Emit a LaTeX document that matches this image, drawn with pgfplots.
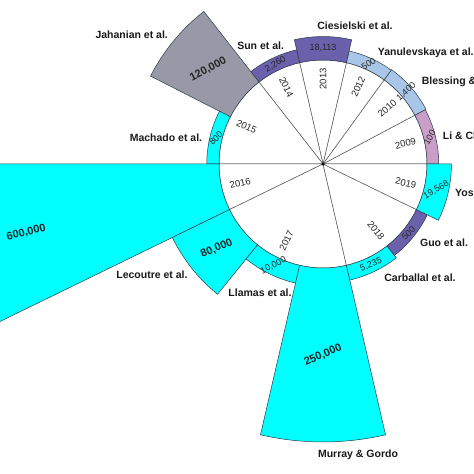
\documentclass[border=0pt]{standalone}
\usepackage{fontspec}
\setmainfont{Liberation Sans}
\usepackage{pgfplots}
\pgfplotsset{compat=1.18}

\definecolor{ccyan}{RGB}{0,255,255}
\definecolor{cpurp}{RGB}{106,96,172}
\definecolor{cblue}{RGB}{168,198,232}
\definecolor{cpink}{RGB}{201,158,201}
\definecolor{cgray}{RGB}{152,152,166}
\definecolor{edge}{RGB}{45,60,70}

\pgfdeclareplotmark{blank}{}

\pgfplotsset{
  yearsec/.style={
    scatter, only marks, mark=blank,
    point meta min=0, point meta max=1,
    visualization depends on={value \thisrow{a0} \as \secA},
    visualization depends on={value \thisrow{a1} \as \secB},
    visualization depends on={value \thisrow{yr} \as \secY},
    visualization depends on={value \thisrow{rot} \as \secR},
    scatter/@pre marker code/.code={%
      \pgfmathparse{(\secA+\secB)/2}\xdef\gAM{\pgfmathresult}%
      \scope
      \filldraw[fill=white, draw=black!65, line width=0.5pt]
        (0pt,0pt) -- (\secA:104pt) arc[start angle=\secA, end angle=\secB, radius=104pt] -- cycle;
      \node[rotate=\secR, text=black!85, font=\fontsize{9.5}{11}\selectfont] at (\gAM:85pt) {\secY};
    },
    scatter/@post marker code/.code={\endscope},
  },
  barsec/.style={
    scatter, only marks, mark=blank,
    point meta min=0, point meta max=1,
    visualization depends on={value \thisrow{a0} \as \secA},
    visualization depends on={value \thisrow{a1} \as \secB},
    visualization depends on={value \thisrow{v} \as \secV},
    visualization depends on={value \thisrow{rot} \as \secR},
    visualization depends on={value \thisrow{col} \as \secC},
    visualization depends on={value \thisrow{bold} \as \secW},
    scatter/@pre marker code/.code={%
      \begingroup
      \pgfkeys{/pgf/fpu=true,/pgf/fpu/output format=fixed}%
      \pgfmathparse{115.7+0.000649*\secV}\xdef\gRO{\pgfmathresult}%
      \pgfmathparse{(104+\gRO)/2}\xdef\gRM{\pgfmathresult}%
      \pgfmathparse{(\secA+\secB)/2}\xdef\gAM{\pgfmathresult}%
      \endgroup
      \scope
      \filldraw[fill=\secC, draw=edge, line width=0.5pt]
        (\secA:104pt) arc[start angle=\secA, end angle=\secB, radius=104pt]
        -- (\secB:\gRO pt) arc[start angle=\secB, end angle=\secA, radius=\gRO pt] -- cycle;
      \ifnum\secW=1
        \def\vfont{\bfseries\fontsize{11}{13}\selectfont}%
      \else
        \def\vfont{\fontsize{9}{11}\selectfont}%
      \fi
      \node[rotate=\secR, text=black!85, font=\vfont, inner sep=0pt] at (\gAM:\gRM pt)
        {\pgfmathprintnumber[fixed, precision=0, 1000 sep={,}, assume math mode=true]{\secV}};
    },
    scatter/@post marker code/.code={\endscope},
  },
}

\begin{document}
\begin{tikzpicture}
\begin{axis}[
    width=474pt, height=474pt, scale only axis,
    xmin=-323, xmax=151,
    ymin=-310, ymax=164,
    hide axis, clip=false,
]
% year sectors of the inner disc
\addplot[yearsec] table[x expr=0, y expr=0] {
a0  a1  yr   rot
0   28  2009 14
28  54  2010 41
54  77  2012 65.5
77  103 2013 90
103 128 2014 -64.5
128 180 2015 -26
180 206 2016 13
206 283 2017 64.5
283 334 2018 -51.5
334 360 2019 -13
};
% one bar per paper: angles, number of images, colour, label rotation, bold label
\addplot[barsec] table[x expr=0, y expr=0] {
a0  a1  v      col   rot bold
0   28  100    cpink 60  0
28  54  1400   cblue 42  0
54  77  500    cblue 34  0
77  103 18113  cpurp 0   0
103 128 2260   cpurp 32  0
128 153 120000 cgray 28  1
153 180 800    ccyan 45  0
180 206 600000 ccyan 14  1
206 231 80000  ccyan 23  1
231 257 10000  ccyan 27  0
257 283 250000 ccyan 24  1
283 308 5235   ccyan 21  0
308 334 500    cpurp 45  0
334 360 19568  ccyan 30  0
};
\addplot[only marks, mark=*, mark size=1.3pt, black] coordinates {(0,0)};

\begin{scope}[font=\bfseries\fontsize{10.5}{12}\selectfont, text=black!90]
\node at (axis cs:-191.3,129) {Jahanian et al.};
\node at (axis cs:-62.4,118) {Sun et al.};
\node at (axis cs:32,138) {Ciesielski et al.};
\node[anchor=west, inner sep=0pt] at (axis cs:54.7,111) {Yanulevskaya et al.};
\node[anchor=west, inner sep=0pt] at (axis cs:98.7,82.3) {Blessing \& Wen};
\node[anchor=west, inner sep=0pt] at (axis cs:119.7,28) {Li \& Chen};
\node[anchor=west, inner sep=0pt] at (axis cs:132,-28.7) {Yoshimura et al.};
\node at (axis cs:121,-79) {Guo et al.};
\node at (axis cs:97,-114) {Carballal et al.};
\node at (axis cs:-63,-129) {Llamas et al.};
\node at (axis cs:-171,-111) {Lecoutre et al.};
\node at (axis cs:-157,26) {Machado et al.};
\node at (axis cs:35,-291) {Murray \& Gordo};
\end{scope}
\end{axis}
\pgfresetboundingbox
\path[use as bounding box] (current axis.south west) rectangle (current axis.north east);
\end{tikzpicture}
\end{document}
